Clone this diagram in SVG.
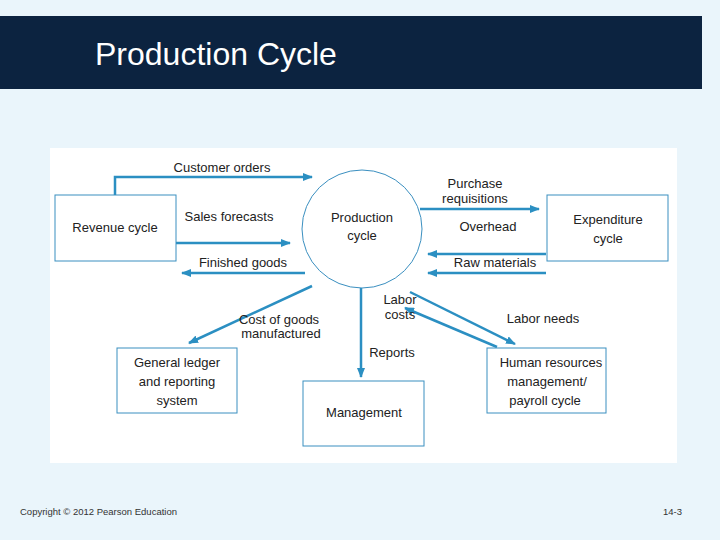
<svg xmlns="http://www.w3.org/2000/svg" width="720" height="540" viewBox="0 0 720 540">
<defs>
<marker id="ah" markerWidth="10" markerHeight="8" refX="9" refY="4" orient="auto" markerUnits="userSpaceOnUse"><path d="M0,0 L10,4 L0,8 Z" fill="#2b8fc2"/></marker>
</defs>
<style>
.box{fill:#fff;stroke:#3a8fc0;stroke-width:1}
.t{font-family:"Liberation Sans",Arial,sans-serif;font-size:13px;fill:#222;text-anchor:middle}
.c{stroke:#2b8fc2;stroke-width:2.5;fill:none;marker-end:url(#ah)}
</style>
<rect width="720" height="540" fill="#eaf5fb"/>
<rect x="0" y="16" width="702" height="73" fill="#0c2340"/>
<text x="95" y="65" font-family="Liberation Sans,Arial,sans-serif" font-size="32" fill="#fff">Production Cycle</text>
<rect x="50" y="148" width="627" height="315" fill="#fff"/>
<g id="connectors">
<path class="c" d="M115,195 V177 H312"/>
<path class="c" d="M176,243 H290"/>
<path class="c" d="M305,273 H182"/>
<path class="c" d="M420,209 H539"/>
<path class="c" d="M546,254 H428"/>
<path class="c" d="M546,273 H428"/>
<path class="c" d="M312,286 L189,343"/>
<path class="c" d="M361,288 V377"/>
<path class="c" d="M497,347 L405,308"/>
<path class="c" d="M410,292 L515,344"/>
</g>
<g class="t">
<text x="222" y="172">Customer orders</text>
<text x="229" y="221">Sales forecasts</text>
<text x="243" y="267">Finished goods</text>
<text x="475" y="188">Purchase</text>
<text x="475" y="203">requisitions</text>
<text x="488" y="231">Overhead</text>
<text x="495" y="267">Raw materials</text>
<text x="279" y="324">Cost of goods</text>
<text x="281" y="338">manufactured</text>
<text x="400" y="304">Labor</text>
<text x="400" y="319">costs</text>
<text x="543" y="323">Labor needs</text>
<text x="392" y="357">Reports</text>
</g>
<g id="production"><ellipse cx="362" cy="229" rx="60" ry="59" fill="#fff" stroke="#3a8fc0"/><text class="t" x="362" y="222">Production</text><text class="t" x="362" y="240">cycle</text></g>
<g id="revenue"><rect class="box" x="55" y="195" width="121" height="66"/><text class="t" x="115" y="232">Revenue cycle</text></g>
<g id="expenditure"><rect class="box" x="547" y="195" width="121" height="66"/><text class="t" x="608" y="224">Expenditure</text><text class="t" x="608" y="243">cycle</text></g>
<g id="gl"><rect class="box" x="117" y="348" width="120" height="65"/><text class="t" x="177" y="367">General ledger</text><text class="t" x="177" y="386">and reporting</text><text class="t" x="177" y="405">system</text></g>
<g id="mgmt"><rect class="box" x="303" y="381" width="121" height="65"/><text class="t" x="364" y="417">Management</text></g>
<g id="hr"><rect class="box" x="487" y="348" width="119" height="65"/><text class="t" x="551" y="367">Human resources</text><text class="t" x="547" y="386">management/</text><text class="t" x="545" y="405">payroll cycle</text></g>
<text x="20" y="515" font-family="Liberation Sans,Arial,sans-serif" font-size="9.5" fill="#333">Copyright © 2012 Pearson Education</text>
<text x="663" y="515" font-family="Liberation Sans,Arial,sans-serif" font-size="9.5" fill="#333">14-3</text>
</svg>
